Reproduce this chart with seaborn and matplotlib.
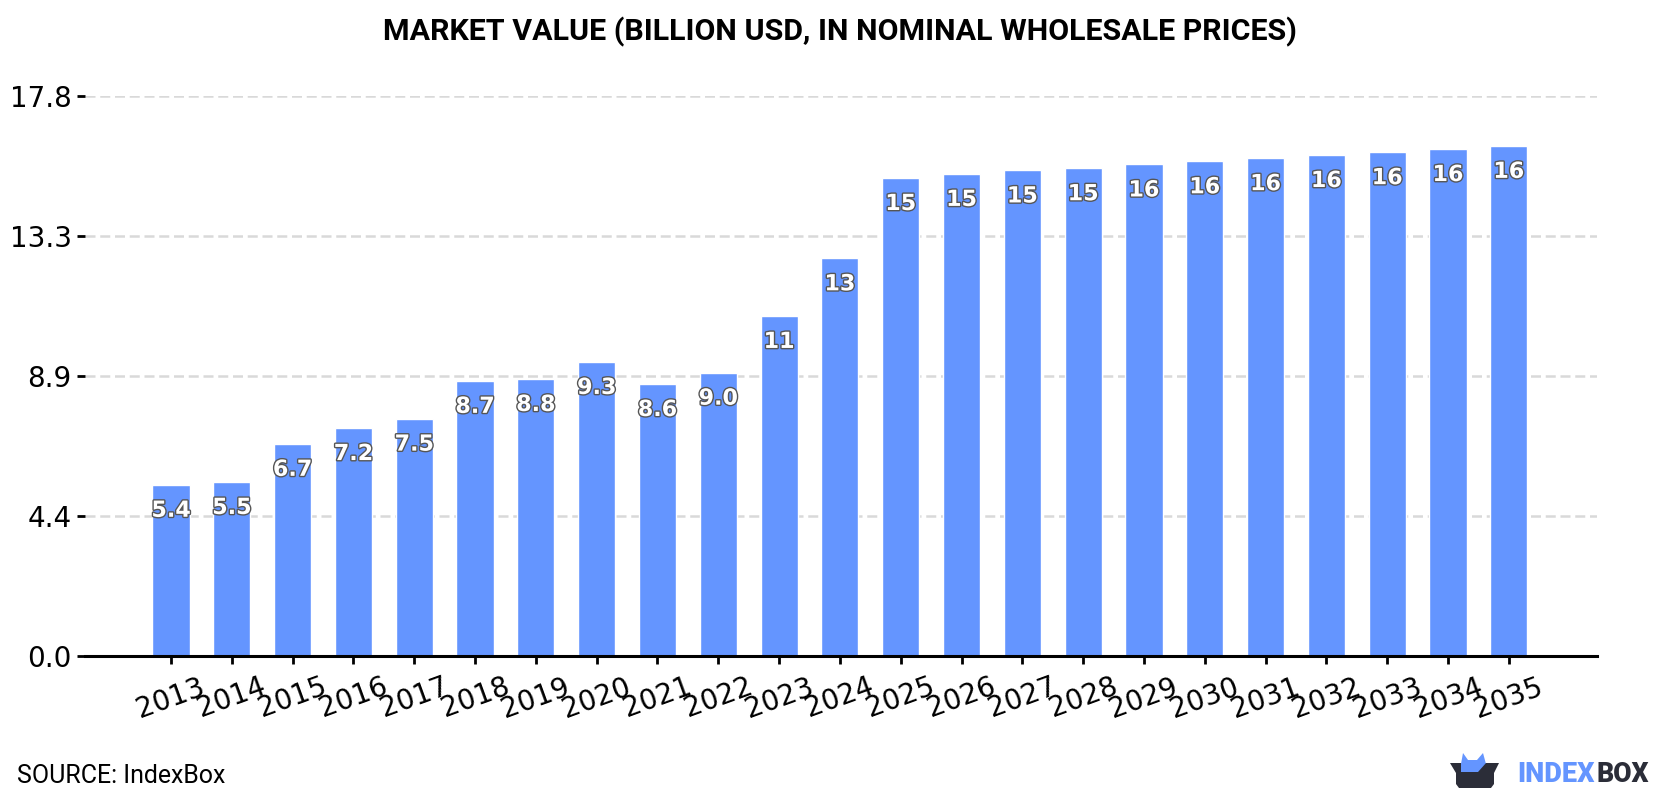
import matplotlib
matplotlib.use("Agg")
import matplotlib.pyplot as plt
import matplotlib.patheffects as pe
from matplotlib.patches import Polygon
import pandas as pd
import seaborn as sns

years = list(range(2013, 2036))
values = [5.44, 5.53, 6.74, 7.24, 7.54, 8.74, 8.8, 9.34, 8.64, 9.0, 10.8, 12.63,
          15.18, 15.31, 15.42, 15.49, 15.61, 15.71, 15.81, 15.91, 16.0, 16.1, 16.2]
y_ticks = [0.0, 4.445, 8.89, 13.335, 17.78]
title = "MARKET VALUE (BILLION USD, IN NOMINAL WHOLESALE PRICES)"
source = "SOURCE: IndexBox"

BAR = "#6495ff"
DARK = "#2b2d38"

sns.set_theme(style="white")
plt.rcParams["font.family"] = ["Roboto", "DejaVu Sans"]

W, H = 1680, 800
fig = plt.figure(figsize=(W / 100, H / 100), dpi=100, facecolor="white")
ax = fig.add_axes([85 / W, 1 - 656 / H, (1597 - 85) / W, (656 - 96) / H])

df = pd.DataFrame({"year": [str(y) for y in years], "value": values})
sns.barplot(data=df, x="year", y="value", color=BAR, saturation=1, width=0.61, ax=ax, zorder=2)

ax.set_xlim(-1.414, 22 + 1.45)
ax.set_ylim(0, 17.78)
ax.set_xlabel("")
ax.set_ylabel("")
ax.set_yticks(y_ticks)
ax.set_yticklabels([f"{v:.1f}" for v in y_ticks], fontsize=20, color="black", family="DejaVu Sans")
ax.tick_params(axis="y", length=6, width=2, color="black", pad=3.5, left=True)
ax.tick_params(axis="x", length=6, width=2, color="black", pad=6, bottom=True)
plt.setp(ax.get_xticklabels(), rotation=20, fontsize=20, color="black",
         family="DejaVu Sans", ha="center")

ax.grid(axis="y", color="#d9d9d9", linewidth=1.8, linestyle=(0, (4, 1.9)), zorder=0)
ax.set_axisbelow(True)
for side in ("top", "right", "left"):
    ax.spines[side].set_visible(False)
ax.spines["bottom"].set_linewidth(2.2)
ax.spines["bottom"].set_color("black")

# Value labels sit just inside the top of each bar
outline = [pe.withStroke(linewidth=2.0, foreground="#555555")]
for i, v in enumerate(values):
    ax.annotate(f"{v:.2g}" if v >= 10 else f"{v:.1f}", (i, v), xytext=(0, -18.8),
                textcoords="offset points", ha="center", va="center",
                fontsize=16, fontweight="bold", family="DejaVu Sans",
                color="white", path_effects=outline, zorder=4)

fig.text(0.5, 1 - 31.5 / H, title, ha="center", va="center", fontsize=21.9,
         fontweight="bold", color="black")
fig.text(17 / W, 1 - 776 / H, source, ha="left", va="center", fontsize=17.9, color="black")

# IndexBox wordmark and box logo, placed in pixel coordinates
def px(points):
    return [(x / W, 1 - y / H) for x, y in points]

fig.add_artist(Polygon(px([(1461, 764), (1463, 753), (1468, 760), (1477, 760), (1483, 753), (1486, 764), (1486, 775), (1461, 775)]),
                       closed=True, transform=fig.transFigure, facecolor=BAR, edgecolor="none"))
fig.add_artist(Polygon(px([(1450, 763), (1499, 763), (1494, 773), (1494, 784), (1491, 788), (1459, 788), (1456, 784), (1456, 773)]),
                       closed=True, transform=fig.transFigure, facecolor=DARK, edgecolor="none"))
fig.add_artist(Polygon(px([(1461, 763), (1486, 763), (1478, 772), (1461, 772)]),
                       closed=True, transform=fig.transFigure, facecolor=BAR, edgecolor="none"))
fig.text(1517 / W, 1 - 774.5 / H, "INDEX", ha="left", va="center", fontsize=19.5,
         fontweight="black", color=BAR)
fig.text(1596 / W, 1 - 774.5 / H, "BOX", ha="left", va="center", fontsize=19.2,
         fontweight="black", color=DARK)

fig.savefig("out.png", dpi=100, facecolor="white")
